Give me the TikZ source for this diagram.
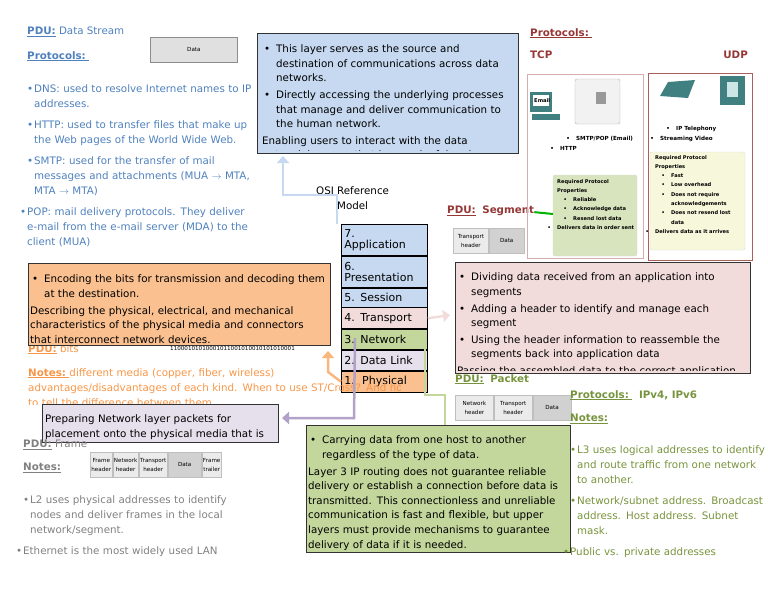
\documentclass[tikz,border=0pt]{standalone}
\usepackage{fontspec}
\setmainfont{DejaVu Sans}
\usepackage{tikz}
\usetikzlibrary{arrows.meta,positioning}
\definecolor{appblue}{HTML}{C6D9F1}
\definecolor{apptext}{HTML}{4F81BD}
\definecolor{trpink}{HTML}{F2DCDB}
\definecolor{trred}{HTML}{953735}
\definecolor{netgreen}{HTML}{C3D69B}
\definecolor{nettext}{HTML}{77933C}
\definecolor{dllav}{HTML}{E5E0EC}
\definecolor{dlarrow}{HTML}{B3A2C7}
\definecolor{phyorange}{HTML}{FAC090}
\definecolor{phytext}{HTML}{F79646}
\definecolor{tcpgreen}{HTML}{D7E4BD}
\definecolor{udpyellow}{HTML}{F7F7DC}
\hyphenpenalty=10000
\newcommand\bitem{\par\vspace{2pt}\leftskip=14pt\noindent\llap{\makebox[14pt][l]{\hspace{2pt}\textbullet}}}
\newcommand\sitem{\par\vspace{6pt}\leftskip=7pt\noindent\llap{\makebox[7pt][l]{\textbullet}}}
\newcommand\tinyitem{\par\leftskip=16pt\noindent\llap{\makebox[16pt][c]{\textbullet}}}

\begin{document}
\begin{tikzpicture}[x=1pt,y=-1pt,
    txt/.style={anchor=north west, inner sep=0pt, align=left, font=\fontsize{10.3}{14.6}\selectfont},
    note/.style={txt, font=\fontsize{10.3}{15}\selectfont},
    layerbox/.style={draw=black!80, thick},
    osi/.style={draw=black, thick, minimum width=86pt, anchor=north west, inner sep=2pt, align=left, font=\fontsize{11}{13}\selectfont, text width=80pt},
    hdr/.style={draw=black!25, fill=black!8, thick, anchor=north west, minimum height=25pt, inner sep=1pt, align=center, font=\fontsize{5.6}{9}\selectfont},
    small/.style={anchor=north west, inner sep=0pt, align=left, font=\bfseries\fontsize{5.6}{8}\selectfont},
    flow/.style={line width=2.5pt, -{Triangle[length=7pt,width=12pt]}}
]
\useasboundingbox (0,0) rectangle (768,594);

% application layer
\node[txt, text=apptext] (apppdu) at (27,27) {\underline{\textbf{PDU:}} Data Stream};
\node[txt, text=apptext] (appproto) at (27,51) {\underline{\textbf{Protocols:\ }}};
\node[hdr, minimum width=87pt, fill=black!12, draw=black!45] (appdata) at (150,37) {Data};
\node[note, text=apptext, text width=236pt] (appnotes) at (27,71) {%
\sitem DNS: used to resolve Internet names to IP addresses.
\sitem HTTP: used to transfer files that make up the Web pages of the World Wide Web.
\sitem SMTP: used for the transfer of mail messages and attachments (MUA $\rightarrow$ MTA, MTA $\rightarrow$ MTA)
\sitem POP: mail delivery protocols. They deliver e-mail from the e-mail server (MDA) to the client (MUA)};
\fill[appblue] (257,33) rectangle (518,153);
\begin{scope}
\clip (257,33) rectangle (518,150);
\node[txt, text width=250pt] (apptxt) at (262,36) {%
\bitem This layer serves as the source and destination of communications across data networks.
\bitem Directly accessing the underlying processes that manage and deliver communication to the human network.
\bitem Enabling users to interact with the data network in a way that is meaningful and effective.};
\end{scope}
\draw[layerbox] (257,33) rectangle (518,153);

% OSI stack
\node[txt, align=center, font=\fontsize{10.3}{15}\selectfont] (osititle) at (316,186) {OSI Reference\\Model};
\node[osi, fill=appblue, minimum height=31pt] (l7) at (341,224) {7.\\[-2pt]Application};
\node[osi, fill=appblue, minimum height=31pt, below=0pt of l7] (l6) {6.\\[-2pt]Presentation};
\node[osi, fill=appblue, minimum height=19pt, below=0pt of l6] (l5) {5. Session};
\node[osi, fill=trpink, minimum height=21pt, below=0pt of l5] (l4) {4. Transport};
\node[osi, fill=netgreen, minimum height=20pt, below=0pt of l4] (l3) {3. Network};
\node[osi, fill=dllav, minimum height=20pt, below=0pt of l3] (l2) {2. Data Link};
\node[osi, fill=phyorange, minimum height=21pt, below=0pt of l2] (l1) {1.\ \ Physical};

% physical layer
\node[txt, text=phytext] (phypdu) at (28,344) {\underline{\textbf{PDU:}} bits};
\node[anchor=north west, inner sep=0pt, font=\fontsize{5.6}{6}\selectfont] (bits) at (170,346) {11000101010001011001010010101010001};
\begin{scope}
\clip (0,360) rectangle (400,404);
\node[note, text=phytext, text width=400pt] (phynotes) at (28,368) {\underline{\textbf{Notes:\ }}different media (copper, fiber, wireless)\\advantages/disadvantages of each kind. When to use ST/Cross? And how\\to tell the difference between them.};
\end{scope}
\fill[phyorange] (28,263) rectangle (330,345);
\begin{scope}
\clip (28,263) rectangle (330,343);
\node[txt, text width=295pt] (phytxt) at (30,266) {%
\bitem Encoding the bits for transmission and decoding them at the destination.
\bitem Describing the physical, electrical, and mechanical characteristics of the physical media and connectors that interconnect network devices.};
\end{scope}
\draw[layerbox] (28,263) rectangle (330,345);
\coordinate (phyturn) at (328,372);
\draw[flow, phytext!70] (l1.west) -- (phyturn) -- (328,351);

% data link layer
\fill[dllav] (42,404) rectangle (278,442);
\begin{scope}
\clip (42,404) rectangle (278,440);
\node[txt, text width=230pt] (dltxt) at (45,406) {%
\bitem Preparing Network layer packets for placement onto the physical media that is a physical medium.};
\end{scope}
\draw[layerbox] (42,404) rectangle (278,442);
\draw[flow, dlarrow] (l3.south west) ++(14,-12) -- (354,418) -- (282,418);
\node[txt, text=black!50] (dlpdu) at (23,440) {\underline{\textbf{PDU:}} Frame};
\node[txt, text=black!50] (dlnotes) at (23,463) {\underline{\textbf{Notes:}}};
\node[hdr] (fh) at (90,452) {Frame\\header};
\node[hdr, right=0pt of fh] (fnh) {Network\\header};
\node[hdr, right=0pt of fnh] (fth) {Transport\\header};
\node[hdr, fill=black!18, minimum width=33pt, right=0pt of fth] (fdata) {Data};
\node[hdr, right=0pt of fdata] (ft) {Frame\\trailer};
\node[note, text=black!50, text width=250pt] (dlbul) at (23,482) {%
\sitem L2 uses physical addresses to identify nodes and deliver frames in the local network/segment.
\sitem Ethernet is the most widely used LAN};

% network layer
\fill[netgreen] (306,425) rectangle (570,552);
\begin{scope}
\clip (306,425) rectangle (570,549);
\node[txt, text width=255pt] (nettxt) at (308,427) {%
\bitem Carrying data from one host to another regardless of the type of data.
\bitem Layer 3 IP routing does not guarantee reliable delivery or establish a connection before data is transmitted. This connectionless and unreliable communication is fast and flexible, but upper layers must provide mechanisms to guarantee delivery of data if it is needed.};
\end{scope}
\draw[layerbox] (306,425) rectangle (570,552);
\draw[line width=2.5pt, netgreen] (425,346) -- (425,395) -- (445,395) -- (445,425);
\node[txt, text=nettext] (netpdu) at (455,374) {\underline{\textbf{PDU:}}\ \ \textbf{Packet}};
\node[hdr, minimum width=38pt] (pnh) at (455,395) {Network\\header};
\node[hdr, minimum width=38pt, right=0pt of pnh] (pth) {Transport\\header};
\node[hdr, fill=black!18, minimum width=38pt, right=0pt of pth] (pdata) {Data};
\node[txt, text=nettext] (netproto) at (570,390) {\underline{\textbf{Protocols:\ }}\ \ \textbf{IPv4, IPv6}};
\node[txt, text=nettext] (netnotes) at (570,414) {\underline{\textbf{Notes:}}};
\node[note, text=nettext, text width=196pt] (netbul) at (570,432) {%
\sitem L3 uses logical addresses to identify and route traffic from one network to another.
\sitem Network/subnet address. Broadcast address. Host address. Subnet mask.
\sitem Public vs. private addresses};

% transport layer
\fill[trpink] (455,262) rectangle (750,373);
\begin{scope}
\clip (455,262) rectangle (750,370);
\node[txt, text width=285pt] (trtxt) at (457,264) {%
\bitem Dividing data received from an application into segments
\bitem Adding a header to identify and manage each segment
\bitem Using the header information to reassemble the segments back into application data
\bitem Passing the assembled data to the correct application};
\end{scope}
\draw[layerbox] (455,262) rectangle (750,373);
\draw[flow, trpink] (l4.east) -- (450,315);
\node[txt, text=trred] (trpdu) at (447,206) {\underline{\textbf{PDU:}}\ \ \textbf{Segment}};
\node[hdr, minimum width=35pt] (tth) at (453,228) {Transport\\header};
\node[hdr, fill=black!18, minimum width=35pt, right=0pt of tth] (tdata) {Data};
\node[txt, text=trred] (trproto) at (530,28) {\underline{\textbf{Protocols:\ }}};
\node[txt, text=trred] (tcp) at (530,51) {\textbf{TCP}};
\node[txt, text=trred, anchor=north east] (udp) at (748,51) {\textbf{UDP}};
\draw[trred!40] (527,74) rectangle (643,258);
\draw[trred!80] (648,73) rectangle (752,260);
% pictures
\fill[teal!50!gray] (530,92) rectangle (552,112);
\fill[white] (533,95) rectangle (549,106);
\node[small, font=\bfseries\fontsize{5.2}{5}\selectfont] (email) at (534,98) {Email};
\fill[teal!50!gray] (532,114) rectangle (560,120);
\draw[black!30, fill=black!5, rounded corners=2pt] (575,79) rectangle (620,124);
\fill[black!40] (596,92) rectangle (606,104);
\fill[teal!50!gray] (660,96) -- (668,82) -- (695,80) -- (688,98) -- cycle;
\fill[teal!50!gray] (720,76) rectangle (745,105);
\fill[white!80!teal] (727,82) rectangle (738,97);
\node[small, text width=80pt] (tcpapps) at (560,132) {%
\tinyitem SMTP/POP (Email)\par\vspace{2pt}
\tinyitem HTTP};
\node[small, text width=80pt] (udpapps) at (660,122) {%
\tinyitem IP Telephony\par\vspace{2pt}
\tinyitem Streaming Video};
\draw[black!15, fill=tcpgreen, rounded corners=2pt] (553,175) rectangle (637,256);
\node[small, text width=78pt, font=\bfseries\fontsize{5.1}{9.3}\selectfont] (tcpreq) at (557,179) {Required Protocol\\Properties\par
\tinyitem Reliable\par
\tinyitem Acknowledge data\par
\tinyitem Resend lost data\par
\tinyitem Delivers data in order sent};
\draw[black!15, fill=udpyellow, rounded corners=2pt] (650,152) rectangle (745,250);
\node[small, text width=88pt, font=\bfseries\fontsize{5.1}{9.3}\selectfont] (udpreq) at (655,155) {Required Protocol\\Properties\par
\tinyitem Fast\par
\tinyitem Low overhead\par
\tinyitem Does not require acknowledgements\par
\tinyitem Does not resend lost data\par
\tinyitem Delivers data as it arrives};
\draw[line width=2pt, green!70!black] (trpdu.east) ++(0,1) -- (553,214);

% application arrow
\draw[flow, appblue] (l7.north west) ++(-4,0) -- (337,195) -- (283,195) -- (283,156);
\end{tikzpicture}
\end{document}
